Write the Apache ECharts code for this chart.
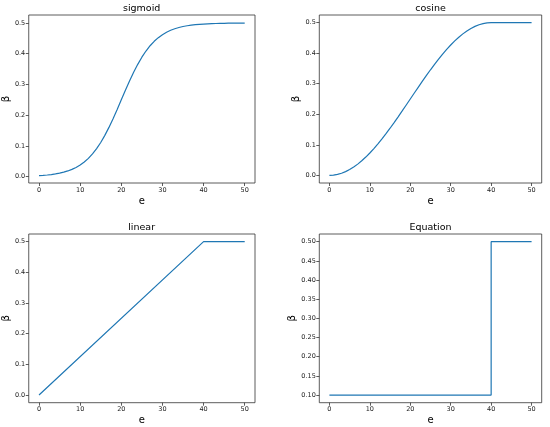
<!DOCTYPE html>
<html><head><meta charset="utf-8">
<script src="https://cdn.jsdelivr.net/npm/echarts@6/dist/echarts.min.js"></script>
<style>html,body{margin:0;padding:0;background:#fff}#c{width:550px;height:427px}</style>
</head><body><div id="c"></div>
<script>
// --- data ---
const epochs = [0,1,2,3,4,5,6,7,8,9,10,11,12,13,14,15,16,17,18,19,20,21,22,23,24,25,26,27,28,29,30,31,32,33,34,35,36,37,38,39,40,41,42,43,44,45,46,47,48,49,50];
const sigmoidBeta = [0.0034,0.0043,0.0055,0.0070,0.0090,0.0115,0.0147,0.0187,0.0237,0.0300,0.0379,0.0477,0.0596,0.0740,0.0912,0.1113,0.1345,0.1604,0.1888,0.2189,0.2500,0.2811,0.3112,0.3396,0.3655,0.3887,0.4088,0.4260,0.4404,0.4523,0.4621,0.4700,0.4763,0.4813,0.4853,0.4885,0.4910,0.4930,0.4945,0.4957,0.4966,0.4974,0.4980,0.4984,0.4988,0.4990,0.4993,0.4994,0.4995,0.4996,0.4997];
const cosineBeta = [0.0000,0.0008,0.0031,0.0069,0.0122,0.0190,0.0273,0.0368,0.0478,0.0599,0.0732,0.0876,0.1031,0.1194,0.1365,0.1543,0.1728,0.1916,0.2109,0.2304,0.2500,0.2696,0.2891,0.3084,0.3273,0.3457,0.3635,0.3806,0.3970,0.4124,0.4268,0.4401,0.4523,0.4632,0.4728,0.4810,0.4878,0.4931,0.4969,0.4992,0.5000,0.5000,0.5000,0.5000,0.5000,0.5000,0.5000,0.5000,0.5000,0.5000,0.5000];
const linearE = [0,40,50];
const linearBeta = [0,0.5,0.5];
const equationE = [0,40,40,50];
const equationBeta = [0.1,0.1,0.5,0.5];
const xTicks = [0,10,20,30,40,50];
const yTicksA = [0.0,0.1,0.2,0.3,0.4,0.5];
const yTicksB = [0.10,0.15,0.20,0.25,0.30,0.35,0.40,0.45,0.50];
const titles = ['sigmoid','cosine','linear','Equation'];

// --- layout ---
const FONT = 'DejaVu Sans';
const grids = [
  {left:28.3, top:15, width:226.7, height:168},
  {left:319.3, top:15, width:222.4, height:168},
  {left:28.3, top:234, width:226.7, height:168.7},
  {left:319.3, top:234, width:222.4, height:168.7}
];
const yRanges = [[-0.0205,0.526],[-0.025,0.525],[-0.025,0.525],[0.08,0.52]];
const yTickSets = [yTicksA,yTicksA,yTicksA,yTicksB];
const yDigits = [1,1,1,2];
const pairs = [
  epochs.map((e,i)=>[e,sigmoidBeta[i]]),
  epochs.map((e,i)=>[e,cosineBeta[i]]),
  linearE.map((e,i)=>[e,linearBeta[i]]),
  equationE.map((e,i)=>[e,equationBeta[i]])
];
const tickStyle = {show:true, length:3, lineStyle:{color:'#333', width:0.8}};
const option = {
  animation:false,
  backgroundColor:'#fff',
  title: grids.map((g,i)=>({
    text:titles[i], left:g.left+g.width/2, top:g.top-11.5, textAlign:'center', padding:0,
    textStyle:{fontFamily:FONT, fontSize:9.5, fontWeight:'normal', color:'#000'}
  })),
  grid: grids.map(g=>({left:g.left, top:g.top, width:g.width, height:g.height, show:true,
    borderColor:'#333', borderWidth:0.8, backgroundColor:'transparent', containLabel:false})),
  xAxis: grids.map((g,i)=>({
    gridIndex:i, type:'value', min:-2.5, max:52.5, position:'bottom',
    name:'e', nameLocation:'middle', nameGap:13,
    nameTextStyle:{fontFamily:FONT, fontSize:10, color:'#000'},
    axisLine:{show:false, onZero:false}, splitLine:{show:false},
    axisTick:Object.assign({customValues:xTicks}, tickStyle),
    axisLabel:{customValues:xTicks, fontFamily:FONT, fontSize:6.5, color:'#222', margin:3.5}
  })),
  yAxis: grids.map((g,i)=>({
    gridIndex:i, type:'value', min:yRanges[i][0], max:yRanges[i][1], position:'left',
    name:'β', nameLocation:'middle', nameGap: i===3?19:16.5, nameRotate:90,
    nameTextStyle:{fontFamily:FONT, fontSize:10, color:'#000'},
    axisLine:{show:false, onZero:false}, splitLine:{show:false},
    axisTick:Object.assign({customValues:yTickSets[i]}, tickStyle),
    axisLabel:{customValues:yTickSets[i], fontFamily:FONT, fontSize:6.5, color:'#222', margin:3.5,
      formatter:v=>Number(v).toFixed(yDigits[i])}
  })),
  series: pairs.map((d,i)=>({
    type:'line', xAxisIndex:i, yAxisIndex:i, data:d, showSymbol:false, symbol:'none',
    lineStyle:{color:'#1f77b4', width:1.2}, smooth:false
  }))
};
echarts.init(document.getElementById('c')).setOption(option);
</script></body></html>
